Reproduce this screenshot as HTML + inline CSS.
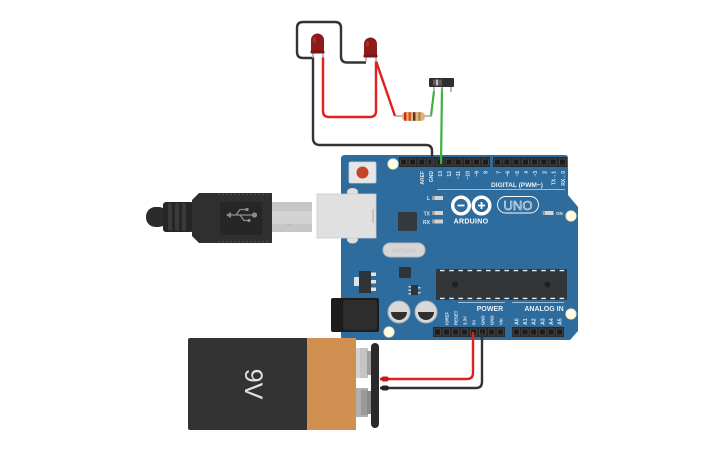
<!DOCTYPE html>
<html><head><meta charset="utf-8"><style>
html,body{margin:0;padding:0;background:#fff;}
svg{display:block;}
text{font-family:"Liberation Sans",sans-serif;}
</style></head><body>
<svg width="725" height="453" viewBox="0 0 725 453" xmlns="http://www.w3.org/2000/svg">
<rect width="725" height="453" fill="#fff"/>

<!-- Arduino board -->
<path d="M345,155 H565 Q568,155 568,158 V195 L578,207 V331 L570,340 H345 Q341,340 341,336 V159 Q341,155 345,155 Z" fill="#2e6c9d"/>

<!-- holes -->
<circle cx="393" cy="164" r="5.2" fill="#fffbe6" stroke="#e6dfb5" stroke-width="0.8"/>
<circle cx="389" cy="332" r="5.2" fill="#fffbe6" stroke="#e6dfb5" stroke-width="0.8"/>
<circle cx="571" cy="216" r="5.2" fill="#fffbe6" stroke="#e6dfb5" stroke-width="0.8"/>
<circle cx="571" cy="314" r="5.2" fill="#fffbe6" stroke="#e6dfb5" stroke-width="0.8"/>

<!-- reset button -->
<rect x="349" y="162" width="27" height="21" rx="1.5" fill="#e6e6e6" stroke="#cfcfcf" stroke-width="0.8"/>
<circle cx="362.5" cy="172.5" r="6" fill="#c2452a"/>

<!-- top headers -->
<rect x="399" y="157" width="91" height="10" fill="#2a2a2a"/>
<rect x="493" y="157" width="74" height="10" fill="#2a2a2a"/>
<g fill="#1c1c1c" stroke="#4c4c4c" stroke-width="0.8">
<rect x="400.6" y="159" width="6" height="6"/><rect x="409.7" y="159" width="6" height="6"/><rect x="418.8" y="159" width="6" height="6"/><rect x="427.9" y="159" width="6" height="6"/><rect x="437" y="159" width="6" height="6"/><rect x="446.1" y="159" width="6" height="6"/><rect x="455.2" y="159" width="6" height="6"/><rect x="464.3" y="159" width="6" height="6"/><rect x="473.4" y="159" width="6" height="6"/><rect x="482.5" y="159" width="6" height="6"/>
<rect x="494.6" y="159" width="6" height="6"/><rect x="503.9" y="159" width="6" height="6"/><rect x="513.1" y="159" width="6" height="6"/><rect x="522.4" y="159" width="6" height="6"/><rect x="531.6" y="159" width="6" height="6"/><rect x="540.9" y="159" width="6" height="6"/><rect x="550.1" y="159" width="6" height="6"/><rect x="559.4" y="159" width="6" height="6"/>
</g>
<g font-size="5" font-weight="bold" fill="#dfe8f0" text-anchor="end">
<text transform="translate(423.8,171) rotate(-90)">AREF</text>
<text transform="translate(432.9,171) rotate(-90)">GND</text>
<text transform="translate(442,171) rotate(-90)">13</text>
<text transform="translate(451.1,171) rotate(-90)">12</text>
<text transform="translate(460.2,171) rotate(-90)">~11</text>
<text transform="translate(469.3,171) rotate(-90)">~10</text>
<text transform="translate(478.4,171) rotate(-90)">~9</text>
<text transform="translate(487.5,171) rotate(-90)">8</text>
<text transform="translate(500.4,171) rotate(-90)">7</text>
<text transform="translate(509.6,171) rotate(-90)">~6</text>
<text transform="translate(518.8,171) rotate(-90)">~5</text>
<text transform="translate(528,171) rotate(-90)">4</text>
<text transform="translate(537.2,171) rotate(-90)">~3</text>
<text transform="translate(546.4,171) rotate(-90)">2</text>
<text transform="translate(555.6,171) rotate(-90)">TX→1</text>
<text transform="translate(564.8,171) rotate(-90)">RX←0</text>
</g>
<text x="517" y="187" font-size="6.6" font-weight="bold" fill="#e6eef5" text-anchor="middle">DIGITAL (PWM~)</text>
<line x1="437" y1="189.5" x2="565" y2="189.5" stroke="#c9d8e6" stroke-width="0.8"/>

<!-- L TX RX LEDs -->
<g font-size="5" font-weight="bold" fill="#e0e8f0" text-anchor="end">
<text x="430" y="200">L</text>
<text x="430" y="215.5">TX</text>
<text x="430" y="224">RX</text>
</g>
<g fill="#d3d3d3"><rect x="432" y="196" width="11" height="4"/><rect x="432" y="211" width="11" height="4"/><rect x="432" y="219.5" width="11" height="4"/><rect x="542.5" y="211" width="11" height="4"/></g>
<g fill="#9c9c9c"><rect x="432" y="196" width="2.5" height="4"/><rect x="432" y="211" width="2.5" height="4"/><rect x="432" y="219.5" width="2.5" height="4"/><rect x="542.5" y="211" width="2.5" height="4"/></g>
<text x="556" y="215" font-size="4.5" font-weight="bold" fill="#e0e8f0">ON</text>

<!-- chip square -->
<rect x="398" y="212" width="19" height="19" rx="1" fill="#333a40"/>

<!-- Arduino logo -->
<circle cx="461" cy="205.5" r="8.3" fill="none" stroke="#fff" stroke-width="3.4"/>
<circle cx="481.5" cy="205.5" r="8.3" fill="none" stroke="#fff" stroke-width="3.4"/>
<line x1="457.5" y1="205.5" x2="464.5" y2="205.5" stroke="#fff" stroke-width="1.8"/>
<line x1="478" y1="205.5" x2="485" y2="205.5" stroke="#fff" stroke-width="1.8"/>
<line x1="481.5" y1="202" x2="481.5" y2="209" stroke="#fff" stroke-width="1.8"/>
<text x="471" y="223.5" font-size="7" font-weight="bold" fill="#fff" text-anchor="middle" letter-spacing="0.3">ARDUINO</text>
<rect x="497.5" y="196.5" width="41" height="16.5" rx="8.2" fill="none" stroke="#fff" stroke-width="0.9"/>
<text x="518" y="210" font-size="13" fill="none" stroke="#fff" stroke-width="0.55" text-anchor="middle">UNO</text>

<!-- crystal -->
<rect x="383" y="243" width="42" height="14" rx="7" fill="#d6d6d6" stroke="#b9b9b9" stroke-width="1"/>
<text x="404" y="252.5" font-size="5" fill="#bdbdbd" text-anchor="middle">SMT16000</text>

<!-- small chips -->
<rect x="399" y="267" width="12" height="11" rx="1" fill="#2f3439"/>
<rect x="359" y="271" width="12" height="22" fill="#2f3439"/>
<g fill="#e2e2e2"><rect x="371" y="272.5" width="5" height="3.5"/><rect x="371" y="280" width="5" height="3.5"/><rect x="371" y="287.5" width="5" height="3.5"/><rect x="354" y="277" width="5" height="9"/></g>
<rect x="411" y="285" width="7" height="10" fill="#2f3439"/>
<g fill="#cfcfcf"><rect x="408.5" y="286" width="2.5" height="1.5"/><rect x="408.5" y="289.5" width="2.5" height="1.5"/><rect x="408.5" y="293" width="2.5" height="1.5"/><rect x="418" y="287" width="2.5" height="1.5"/><rect x="418" y="292" width="2.5" height="1.5"/></g>

<!-- ATmega -->
<rect x="436" y="269" width="131" height="31" fill="#333638"/>
<g stroke="#ececec" stroke-width="1.4" stroke-dasharray="4.6 4.6"><line x1="440" y1="270.6" x2="566" y2="270.6"/><line x1="440" y1="298.4" x2="566" y2="298.4"/></g>
<circle cx="455" cy="284.5" r="3" fill="#1f1f1f"/>
<circle cx="547.5" cy="284.5" r="3" fill="#1f1f1f"/>

<!-- capacitors -->
<g>
<circle cx="399" cy="312" r="11" fill="#d8d8d8" stroke="#a9b4bd" stroke-width="1"/>
<path d="M391,312 A8,8 0 0 0 407,312 Z" fill="#2f2f2f"/>
<circle cx="426" cy="312" r="11" fill="#d8d8d8" stroke="#a9b4bd" stroke-width="1"/>
<path d="M418,312 A8,8 0 0 0 434,312 Z" fill="#2f2f2f"/>
</g>

<!-- power jack -->
<rect x="331" y="298" width="48" height="34" rx="2" fill="#1d1d1d"/>
<rect x="343" y="300" width="34" height="30" rx="3" fill="#2d2d2d"/>

<!-- bottom headers -->
<text x="490" y="311" font-size="7" font-weight="bold" fill="#e6eef5" text-anchor="middle">POWER</text>
<text x="544" y="311" font-size="7" font-weight="bold" fill="#e6eef5" text-anchor="middle">ANALOG IN</text>
<line x1="458" y1="302.5" x2="505" y2="302.5" stroke="#c9d8e6" stroke-width="0.8"/>
<line x1="512" y1="302.5" x2="564" y2="302.5" stroke="#c9d8e6" stroke-width="0.8"/>
<g font-size="4.3" font-weight="bold" fill="#dfe8f0">
<text transform="translate(448.3,325) rotate(-90)">IOREF</text>
<text transform="translate(457.3,325) rotate(-90)">RESET</text>
<text transform="translate(466.3,325) rotate(-90)">3.3V</text>
<text transform="translate(475.3,325) rotate(-90)">5V</text>
<text transform="translate(484.3,325) rotate(-90)">GND</text>
<text transform="translate(493.3,325) rotate(-90)">GND</text>
<text transform="translate(502.3,325) rotate(-90)">Vin</text>
</g>
<g font-size="5.2" font-weight="bold" fill="#dfe8f0">
<text transform="translate(518.3,325) rotate(-90)">A0</text>
<text transform="translate(527,325) rotate(-90)">A1</text>
<text transform="translate(535.7,325) rotate(-90)">A2</text>
<text transform="translate(544.3,325) rotate(-90)">A3</text>
<text transform="translate(553,325) rotate(-90)">A4</text>
<text transform="translate(561.7,325) rotate(-90)">A5</text>
</g>
<rect x="433" y="327" width="72" height="10" fill="#2a2a2a"/>
<rect x="512" y="327" width="52" height="10" fill="#2a2a2a"/>
<g fill="#1c1c1c" stroke="#4c4c4c" stroke-width="0.8">
<rect x="434.5" y="329" width="6" height="6"/><rect x="443.5" y="329" width="6" height="6"/><rect x="452.5" y="329" width="6" height="6"/><rect x="461.5" y="329" width="6" height="6"/><rect x="470.5" y="329" width="6" height="6"/><rect x="479.5" y="329" width="6" height="6"/><rect x="488.5" y="329" width="6" height="6"/><rect x="497.5" y="329" width="6" height="6"/>
<rect x="513.3" y="329" width="6" height="6"/><rect x="522" y="329" width="6" height="6"/><rect x="530.7" y="329" width="6" height="6"/><rect x="539.3" y="329" width="6" height="6"/><rect x="548" y="329" width="6" height="6"/><rect x="556.7" y="329" width="6" height="6"/>
</g>

<!-- USB jack on board -->
<ellipse cx="352.5" cy="192" rx="5.5" ry="4" fill="#dedede"/>
<ellipse cx="352.5" cy="239.5" rx="5.5" ry="4" fill="#dedede"/>
<rect x="317" y="194" width="59" height="44" fill="#e0e0e0" stroke="#cdcdcd" stroke-width="0.8"/>
<line x1="373" y1="209" x2="373" y2="223" stroke="#9a9a9a" stroke-width="0.8"/>

<!-- USB plug -->
<rect x="146" y="207" width="22" height="20" rx="9.5" fill="#2b2b2b"/>
<rect x="163" y="202" width="31" height="30" rx="3" fill="#262626"/>
<g fill="#3a3a3a"><rect x="168" y="203" width="4" height="28" rx="2"/><rect x="175" y="203" width="4" height="28" rx="2"/><rect x="182" y="203" width="4" height="28" rx="2"/></g>
<path d="M192,200 L199,193 H272 V243 H199 L192,236 Z" fill="#2f2f2f"/>
<g stroke="#4a4a4a" stroke-width="1.2" stroke-dasharray="2 2"><line x1="218" y1="194.5" x2="268" y2="194.5"/><line x1="218" y1="241.5" x2="268" y2="241.5"/></g>
<rect x="220" y="202" width="42" height="33" fill="#262626"/>
<g stroke="#8c8c8c" stroke-width="1.3" fill="none">
<line x1="229" y1="215" x2="254" y2="215"/>
<polyline points="236,215 240,209.5 246,209.5"/>
<polyline points="240,215 244,220.5 248,220.5"/>
</g>
<path d="M226,215 L231,212 L231,218 Z" fill="#8c8c8c"/>
<circle cx="254.5" cy="215" r="2.6" fill="#8c8c8c"/>
<rect x="245.5" y="208" width="3" height="3" fill="#8c8c8c"/>
<circle cx="249" cy="220.5" r="1.6" fill="#8c8c8c"/>
<rect x="272" y="202" width="40" height="30" fill="#c6c6c6"/>
<rect x="272" y="211" width="40" height="13" fill="#d3d3d3"/>
<path d="M286,224 q3,2 6,0" fill="none" stroke="#b5b5b5" stroke-width="0.8"/>

<!-- Battery -->
<rect x="188" y="338" width="120" height="92" rx="2" fill="#333333"/>
<rect x="307" y="338" width="49" height="92" fill="#d28f52"/>
<text transform="translate(245,384) rotate(90)" font-size="25" fill="#e2e2e2" text-anchor="middle">9V</text>
<rect x="356" y="348" width="12" height="30" fill="#c4c4c4"/>
<rect x="356" y="348" width="4" height="30" fill="#d2d2d2"/>
<rect x="367" y="351" width="5" height="24" fill="#9e9e9e"/>
<rect x="356" y="388" width="12" height="29" fill="#b0b0b0"/>
<rect x="361" y="390" width="7" height="25" fill="#9a9a9a"/>
<rect x="367" y="391" width="5" height="23" fill="#8a8a8a"/>
<rect x="371" y="343" width="8" height="85" rx="4" fill="#2a2a2a"/>

<!-- battery wires -->
<path d="M380,379 H467 Q473,379 473,373 V332" fill="none" stroke="#e01f1f" stroke-width="2.4"/>
<path d="M380,388 H476 Q482,388 482,382 V332" fill="none" stroke="#333" stroke-width="2.4"/>
<rect x="381" y="376.5" width="8" height="5" rx="2.5" fill="#c61a1a"/>
<rect x="381" y="385.5" width="8" height="5" rx="2.5" fill="#222"/>

<!-- top wires -->
<path d="M366,62.5 H347 Q341,62.5 341,56.5 V28 Q341,22 335,22 H303 Q297,22 297,28 V52 Q297,58 303,58 H313" fill="none" stroke="#333" stroke-width="2.4"/>
<path d="M313,57 V138 Q313,145 320,145 H426 Q432,145 432,151 V164" fill="none" stroke="#333" stroke-width="2.4"/>
<path d="M323,57 V111 Q323,117 329,117 H370 Q376,117 376,111 V61" fill="none" stroke="#e01f1f" stroke-width="2.4"/>
<path d="M376,61 L395,116" fill="none" stroke="#e01f1f" stroke-width="2.4"/>
<path d="M431,116 L434,91" fill="none" stroke="#3cb33c" stroke-width="2.2"/>
<path d="M442,88 L441,164" fill="none" stroke="#3cb33c" stroke-width="2.2"/>

<!-- resistor -->
<line x1="395" y1="116" x2="432" y2="116" stroke="#a5a5a5" stroke-width="1.5"/>
<rect x="402" y="112" width="23" height="9" rx="4" fill="#dcb583"/>
<rect x="404" y="112.3" width="2.4" height="8.4" fill="#d12a1f"/>
<rect x="408.5" y="112.3" width="2.4" height="8.4" fill="#d94b1a"/>
<rect x="413" y="112.3" width="2.4" height="8.4" fill="#5a3520"/>
<rect x="418.5" y="112.3" width="2" height="8.4" fill="#a8803f"/>

<!-- switch -->
<g stroke="#9a9a9a" stroke-width="1.4"><line x1="434" y1="86" x2="434" y2="92"/><line x1="442" y1="86" x2="442" y2="92"/><line x1="451" y1="86" x2="451" y2="92"/></g>
<rect x="429" y="78" width="25" height="9" rx="1" fill="#2f2f2f"/>
<rect x="433" y="79.5" width="9" height="6" fill="#5a5a5a"/>
<rect x="436" y="79.5" width="2" height="6" fill="#bdbdbd"/>

<!-- LEDs -->
<g stroke="#a0a0a0" stroke-width="1.4"><line x1="313" y1="52" x2="313" y2="58"/><line x1="323" y1="52" x2="323" y2="58"/><line x1="366" y1="56" x2="366" y2="62"/><line x1="376" y1="56" x2="376" y2="62"/></g>
<path d="M311,53 V40 A6.5,6.5 0 0 1 324,40 V53 Z" fill="#8e1b1b"/>
<rect x="310.5" y="50.5" width="14" height="3" rx="1" fill="#7a1616"/>
<path d="M364,57 V44 A6.5,6.5 0 0 1 377,44 V57 Z" fill="#8e1b1b"/>
<rect x="363.5" y="54.5" width="14" height="3" rx="1" fill="#7a1616"/>
<ellipse cx="314.5" cy="40" rx="1.5" ry="3" fill="#a83232"/>
<ellipse cx="367.5" cy="44" rx="1.5" ry="3" fill="#a83232"/>
</svg>
</body></html>
